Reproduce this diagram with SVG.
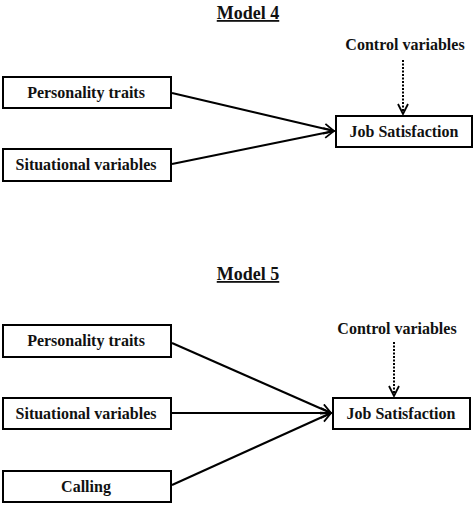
<svg xmlns="http://www.w3.org/2000/svg" width="474" height="506" viewBox="0 0 474 506">
<style>
.box{fill:#fff;stroke:#000;stroke-width:2}
.t{font-family:"Liberation Serif","Times New Roman",serif;font-weight:bold;font-size:16px;fill:#111;text-anchor:middle}
.title{font-family:"Liberation Serif","Times New Roman",serif;font-weight:bold;font-size:18px;fill:#111;text-anchor:middle;text-decoration:underline}
.c{stroke:#000;stroke-width:2;fill:none}
.d{stroke:#000;stroke-width:2;fill:none;stroke-dasharray:2 1.5}
</style>
<defs>
<marker id="ah" viewBox="0 0 12 12" refX="11" refY="6" markerWidth="12" markerHeight="12" markerUnits="userSpaceOnUse" orient="auto">
<path d="M1,1 L11,6 L1,11" fill="none" stroke="#000" stroke-width="1.8"/>
</marker>
</defs>
<text class="title" x="248" y="19">Model 4</text>
<text class="title" x="248" y="280">Model 5</text>
<g id="m4-personality"><rect class="box" x="3" y="77" width="168" height="31"/><text class="t" x="86" y="98">Personality traits</text></g>
<g id="m4-situational"><rect class="box" x="3" y="149" width="168" height="32"/><text class="t" x="86" y="170">Situational variables</text></g>
<g id="m4-job"><rect class="box" x="336" y="116" width="136" height="31"/><text class="t" x="404" y="137">Job Satisfaction</text></g>
<g id="m4-control"><text class="t" x="405" y="50">Control variables</text></g>
<g id="m5-personality"><rect class="box" x="3" y="325" width="168" height="32"/><text class="t" x="86" y="346">Personality traits</text></g>
<g id="m5-situational"><rect class="box" x="3" y="398" width="168" height="31"/><text class="t" x="86" y="419">Situational variables</text></g>
<g id="m5-calling"><rect class="box" x="3" y="471" width="168" height="31"/><text class="t" x="86" y="492">Calling</text></g>
<g id="m5-job"><rect class="box" x="333" y="398" width="137" height="31"/><text class="t" x="401" y="419">Job Satisfaction</text></g>
<g id="m5-control"><text class="t" x="397" y="334">Control variables</text></g>
<g id="connectors">
<line class="c" x1="172" y1="93" x2="334" y2="131" marker-end="url(#ah)"/>
<line class="c" x1="172" y1="164" x2="334" y2="131" marker-end="url(#ah)"/>
<line class="d" x1="403" y1="60" x2="403" y2="114" marker-end="url(#ah)"/>
<line class="c" x1="172" y1="343" x2="331" y2="413" marker-end="url(#ah)"/>
<line class="c" x1="172" y1="413" x2="331" y2="413" marker-end="url(#ah)"/>
<line class="c" x1="172" y1="485" x2="331" y2="413" marker-end="url(#ah)"/>
<line class="d" x1="394" y1="342" x2="394" y2="396" marker-end="url(#ah)"/>
</g>
</svg>
